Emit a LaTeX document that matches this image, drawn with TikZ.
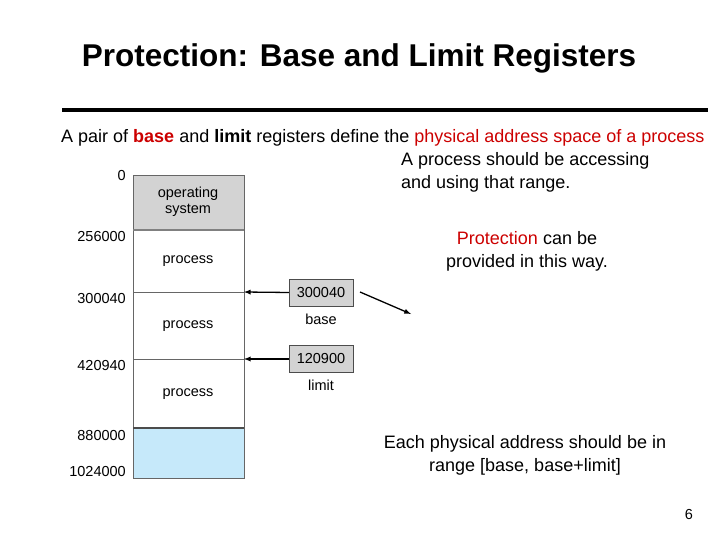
\documentclass[tikz,border=0pt]{standalone}
\usepackage{fontspec}
\setmainfont{Liberation Sans}
\definecolor{hl}{RGB}{204,0,0}
\definecolor{osgray}{RGB}{211,211,211}
\definecolor{freeblue}{RGB}{198,233,250}
\begin{document}
\begin{tikzpicture}[x=1pt,y=-1pt,
  txt/.style={font=\fontsize{18}{23}\selectfont, inner sep=0pt},
  lab/.style={font=\fontsize{14.5}{16.5}\selectfont, inner sep=0pt},
  reg/.style={draw=black!70, fill=osgray, minimum width=64pt, minimum height=27pt, inner sep=0pt, font=\fontsize{14.5}{16}\selectfont},
  arr/.style={-latex, line width=1.3pt}]
\useasboundingbox (0,0) rectangle (720,540);
\node[font=\fontsize{31.5}{34}\selectfont\bfseries, inner sep=0pt] (title) at (359,58) {Protection: Base and Limit Registers};
\draw[line width=4pt] (62,110) -- (708,110);
\node[txt, anchor=west] (l1) at (61,138) {A pair of \textcolor{hl}{\textbf{base}} and \textbf{limit} registers define the \textcolor{hl}{physical address space of a process}};
\node[txt, anchor=west, align=left] (l2) at (401,172) {A process should be accessing\\and using that range.};
\node[txt, align=center] (l3) at (527,251) {\textcolor{hl}{Protection} can be\\provided in this way.};
\node[txt, align=center] (l4) at (525,455) {Each physical address should be in\\range [base, base+limit]};
\node[lab] (pg) at (689,515) {6};
% memory
\fill[osgray] (133,175) rectangle (244,230);
\fill[freeblue] (133,428) rectangle (244,478);
\draw[black!60, line width=0.6pt] (133,175) rectangle (244,478);
\draw[black!50, line width=1.2pt] (133,230) -- (244,230);
\draw[black!60, line width=0.5pt] (133,292) -- (244,292);
\draw[black!60, line width=0.5pt] (133,359) -- (244,359);
\draw[black!70, line width=1.2pt] (133,428) -- (244,428);
\coordinate (m1) at (244,292);
\coordinate (m2) at (244,359);
\node[lab, align=center] (os) at (188,202) {operating\\system};
\node[lab] (p1) at (188,261) {process};
\node[lab] (p2) at (188,326) {process};
\node[lab] (p3) at (188,394) {process};
\node[lab, anchor=east] (a0) at (126,176) {0};
\node[lab, anchor=east] (a1) at (126,237) {256000};
\node[lab, anchor=east] (a2) at (126,299) {300040};
\node[lab, anchor=east] (a3) at (126,366) {420940};
\node[lab, anchor=east] (a4) at (126,436) {880000};
\node[lab, anchor=east] (a5) at (126,472) {1024000};
\node[reg] (base) at (321,292.5) {300040};
\node[reg] (limit) at (321,359) {120900};
\node[lab] (bl) at (321,319) {base};
\node[lab] (ll) at (321,385) {limit};
\draw[arr] (base.west) -- (m1);
\draw[arr] (limit.west) -- (m2);
\coordinate (d1) at (360,292);
\coordinate (d2) at (411,314);
\draw[arr] (d1) -- (d2);
\end{tikzpicture}
\end{document}
